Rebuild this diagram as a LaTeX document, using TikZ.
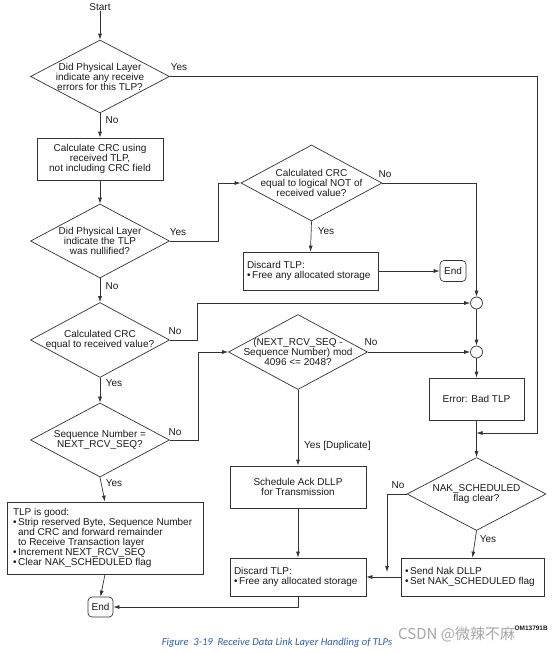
\documentclass[tikz,border=0pt]{standalone}
\usepackage{fontspec}
\setmainfont{Liberation Sans}
\newfontfamily\capfont{Carlito}
\newfontfamily\cjkfont{Noto Sans CJK SC}
\usetikzlibrary{shapes.geometric,arrows.meta,calc}
\definecolor{linec}{HTML}{333333}
\definecolor{txt}{HTML}{1A1A1A}
\definecolor{capblue}{HTML}{2E5DA8}
\newcommand\dfont{\fontsize{10}{10}\selectfont}
\tikzset{
  base/.style={draw=linec, line width=0.7pt, text=txt, font=\dfont, inner sep=0pt},
  dia/.style={base, diamond, aspect=1.9},
  dtext/.style={label={[text=txt, font=\dfont, inner sep=0pt, align=center]center:#1}},
  proc/.style={base, rectangle, align=center},
  lproc/.style={base, rectangle, align=flush left, inner xsep=4pt},
  term/.style={base, rectangle, rounded corners=4pt, align=center},
  junc/.style={base, circle, minimum size=12pt},
  arr/.style={draw=linec, line width=0.7pt, -{Latex[length=6pt,width=4pt]}},
  lbl/.style={text=txt, font=\dfont, inner sep=0pt},
}
\begin{document}
\begin{tikzpicture}[x=1pt,y=-1pt]
\useasboundingbox (0,0) rectangle (552,653);
% nodes
\node[lbl] (start) at (100,7) {Start};
\node[dia, minimum width=139pt, minimum height=73pt, dtext={Did Physical Layer\\indicate any receive\\errors for this TLP?}] (d1) at (100,76.5) {};
\node[proc, minimum width=126pt, minimum height=42pt] (calc) at (100,159) {Calculate CRC using\\received TLP,\\not including CRC field};
\node[dia, minimum width=139pt, minimum height=74pt, dtext={Did Physical Layer\\indicate the TLP\\was nullified?}] (d2) at (100,241) {};
\node[dia, minimum width=141pt, minimum height=76pt, dtext={Calculated CRC\\equal to logical NOT of\\received value?}] (d3) at (311.5,183) {};
\node[lproc, text width=127pt, minimum height=38pt] (disc1) at (310.5,271) {Discard TLP:\\\textbullet\,Free any allocated storage};
\node[term, minimum width=26pt, minimum height=21pt] (end1) at (453,271) {End};
\node[dia, minimum width=139pt, minimum height=75pt, dtext={Calculated CRC\\equal to received value?}] (d4) at (100,340) {};
\node[dia, minimum width=139pt, minimum height=74pt, dtext={Sequence Number =\\NEXT\_RCV\_SEQ?}] (d5) at (100,440) {};
\node[dia, minimum width=139pt, minimum height=75pt, dtext={(NEXT\_RCV\_SEQ -\\Sequence Number) mod\\4096 <= 2048?}] (d6) at (298,352) {};
\node[junc] (c1) at (476.5,303) {};
\node[junc] (c2) at (476.5,352) {};
\node[proc, minimum width=95pt, minimum height=42pt] (err) at (476.5,399) {Error: Bad TLP};
\node[dia, minimum width=139pt, minimum height=73pt, dtext={NAK\_SCHEDULED\\flag clear?}] (d7) at (476.5,494) {};
\node[lproc, text width=135pt, minimum height=38pt] (nak) at (472.5,577) {\textbullet\,Send Nak DLLP\\\textbullet\,Set NAK\_SCHEDULED flag};
\node[proc, minimum width=136pt, minimum height=42pt] (sched) at (298,487) {Schedule Ack DLLP\\for Transmission};
\node[lproc, text width=128pt, minimum height=38pt] (disc2) at (298,577) {Discard TLP:\\\textbullet\,Free any allocated storage};
\node[lproc, text width=184pt, minimum height=72pt, inner xsep=6pt] (good) at (105,538) {TLP is good:\\\textbullet\,Strip reserved Byte, Sequence Number\\\phantom{\textbullet\,}and CRC and forward remainder\\\phantom{\textbullet\,}to Receive Transaction layer\\\textbullet\,Increment NEXT\_RCV\_SEQ\\\textbullet\,Clear NAK\_SCHEDULED flag};
\node[term, minimum width=25pt, minimum height=20pt] (end2) at (100.5,607) {End};
\coordinate (r1) at (537,76.5);
\coordinate (r2) at (537,433);
\coordinate (nj) at (387,572);
% connectors
\draw[arr] (start) -- (d1.north);
\draw[arr] (d1.south) -- (calc.north);
\draw[arr] (calc.south) -- (d2.north);
\draw[arr] (d2.south) -- (d4.north);
\draw[arr] (d4.south) -- (d5.north);
\draw[arr] (d5.south) -- (good.north);
\draw[arr] (good.south) -- (end2.north);
\draw[arr] (d1.east) -- (r1) -- (r2) -- (r2 -| err.south);
\draw[arr] (d2.east) -- ++(48,0) |- (d3.west);
\draw[arr] (d3.east) -| (c1.north);
\draw[arr] (d3.south) -- (disc1.north);
\draw[arr] (disc1.east) -- (end1.west);
\draw[arr] (d4.east) -- ++(27,0) |- (c1.west);
\draw[arr] (d5.east) -- ++(28,0) |- (d6.west);
\draw[arr] (d6.east) -- (c2.west);
\draw[arr] (c1.south) -- (c2.north);
\draw[arr] (c2.south) -- (err.north);
\draw[arr] (err.south) -- (d7.north);
\draw[arr] (d7.south) -- (nak.north);
\draw[arr] (d7.west) -| (nj);
\draw[arr] (nak.west) -- (disc2.east);
\draw[arr] (d6.south) -- (sched.north);
\draw[arr] (sched.south) -- (disc2.north);
\draw[arr] (disc2.south) |- (end2.east);
% labels
\node[lbl] at (179,67) {Yes};
\node[lbl] at (112,120) {No};
\node[lbl] at (178,232) {Yes};
\node[lbl] at (112,286) {No};
\node[lbl] at (385,174) {No};
\node[lbl] at (326,231) {Yes};
\node[lbl] at (175,331) {No};
\node[lbl] at (114,383) {Yes};
\node[lbl] at (175,432) {No};
\node[lbl] at (114,483) {Yes};
\node[lbl] at (371,342) {No};
\node[lbl, anchor=west] at (304,446) {Yes [Duplicate]};
\node[lbl] at (398,485) {No};
\node[lbl] at (488,539) {Yes};
% caption and marks
\node[inner sep=0pt, text=capblue, font=\capfont\itshape\fontsize{10.6}{12}\selectfont] (cap) at (277,643) {Figure\ \ 3-19\ \ Receive Data Link Layer Handling of TLPs};
\node[inner sep=0pt, anchor=east, text=txt, font=\bfseries\fontsize{6.5}{7}\selectfont] (om) at (548,628) {OM13791B};
\node[inner sep=0pt, anchor=west, text=black!35, font=\cjkfont\fontsize{15}{17}\selectfont] (wm) at (398,634) {CSDN @微辣不麻};
\end{tikzpicture}
\end{document}
